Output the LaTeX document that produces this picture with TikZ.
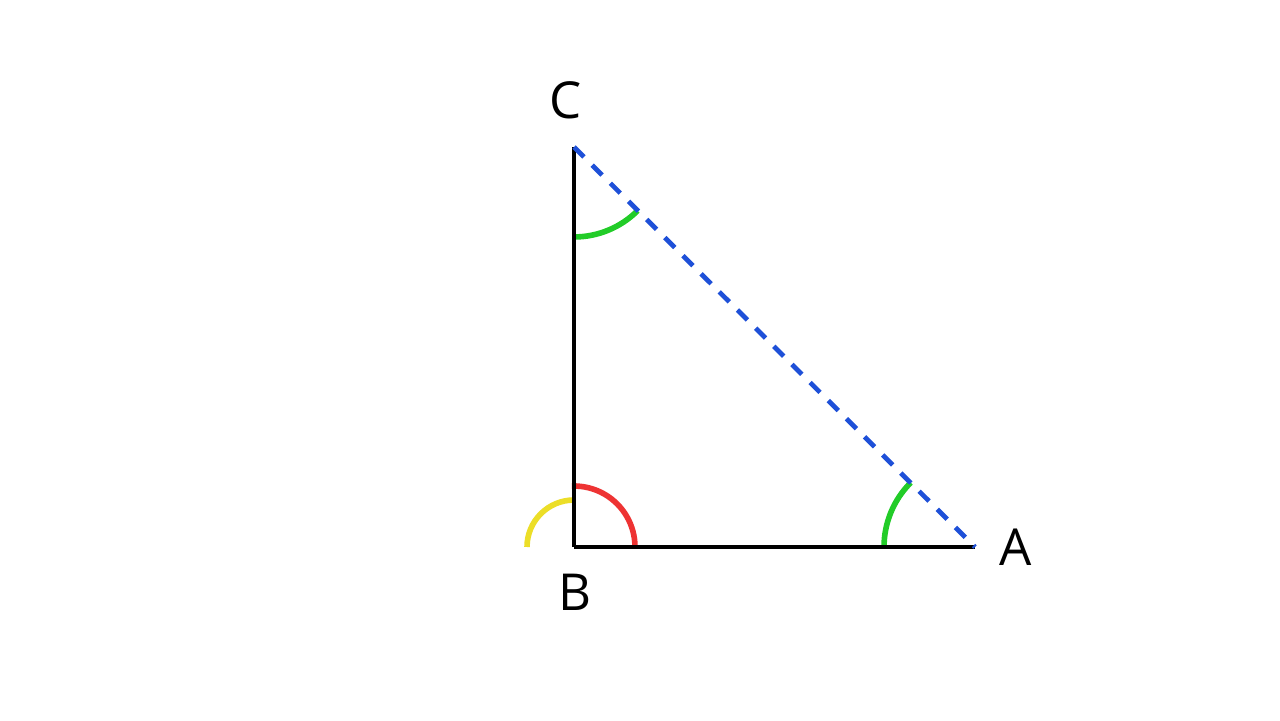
\documentclass[tikz,border=0pt]{standalone}
\usepackage{fontspec}
\setmainfont{Open Sans}
\begin{document}
\begin{tikzpicture}[x=0.02cm,y=0.02cm,
  side/.style={line width=2.4pt,black},
  hyp/.style={line width=2.7pt,color=hypblue,dash pattern=on 8pt off 6.6pt},
  angarc/.style={line width=3.2pt},
  vlabel/.style={font=\fontsize{29}{32}\selectfont,text=black,inner sep=0pt}]
\definecolor{hypblue}{RGB}{30,80,216}
\definecolor{angg}{RGB}{34,204,40}
\definecolor{angr}{RGB}{238,51,51}
\definecolor{angy}{RGB}{236,222,40}
\useasboundingbox (0,0) rectangle (1280,720);
\fill[white] (0,0) rectangle (1280,720);
\coordinate (B) at (574,173);
\coordinate (C) at (574,573);
\coordinate (A) at (975,173);
% angle arcs
\draw[angarc,angr] ([xshift=1.22cm]B) arc[start angle=0,end angle=92,radius=1.22cm];
\draw[angarc,angy] ([yshift=0.94cm]B) arc[start angle=90,end angle=180,radius=0.94cm];
\draw[angarc,angg] ([yshift=-1.8cm]C) arc[start angle=-90,end angle=-45,radius=1.8cm];
\draw[angarc,angg] ([xshift=-1.82cm]A) arc[start angle=180,end angle=135,radius=1.82cm];
% sides
\draw[side] (B) -- (C);
\draw[side] (B) -- (A);
\draw[hyp] (C) -- (A);
% labels
\node[vlabel] (lC) at (566,620) {C};
\node[vlabel] (lB) at (575,128) {B};
\node[vlabel] (lA) at (1016,173) {A};
\end{tikzpicture}
\end{document}
